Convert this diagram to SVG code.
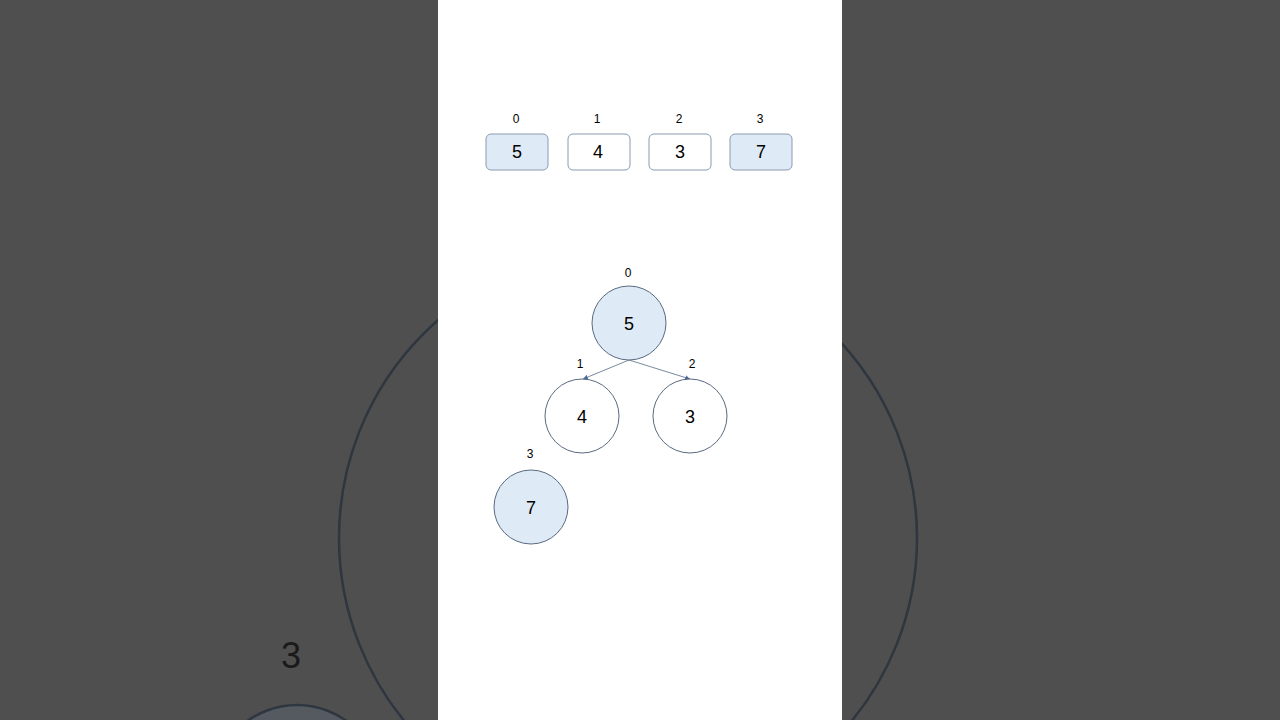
<svg xmlns="http://www.w3.org/2000/svg" width="1280" height="720" viewBox="0 0 1280 720">
<defs>
<style>
.t{font-family:"Liberation Sans",Arial,sans-serif;fill:#000;text-anchor:middle}
.idx{font-size:12px}
.val{font-size:18px}
.box{stroke:#8a9bb0;stroke-width:1}
.node{stroke:#5a6a80;stroke-width:1}
.edge{stroke:#7a8aa0;stroke-width:1;fill:none}
</style>
<marker id="ah" viewBox="0 0 6 6" refX="6" refY="3" markerWidth="5" markerHeight="5" orient="auto"><path d="M0,0L6,3L0,6z" fill="#4a6a9a"/></marker>
</defs>
<rect width="1280" height="720" fill="#4f4f4f"/>
<circle cx="628" cy="538" r="289" fill="none" stroke="#2e3640" stroke-width="2.5"/>
<circle cx="297" cy="790" r="85" fill="#555a60" stroke="#2e3640" stroke-width="2.5"/>
<text x="291" y="668" class="t" style="font-size:36px;fill:#1a1a1a">3</text>
<rect x="438" y="0" width="404" height="720" fill="#ffffff"/>
<g id="array">
<g id="a0"><text x="516" y="123" class="t idx">0</text><rect x="486" y="134" width="62" height="36" rx="5" fill="#deeaf5" class="box"/><text x="517" y="158" class="t val">5</text></g>
<g id="a1"><text x="597" y="123" class="t idx">1</text><rect x="568" y="134" width="62" height="36" rx="5" fill="#fff" class="box"/><text x="598" y="158" class="t val">4</text></g>
<g id="a2"><text x="679" y="123" class="t idx">2</text><rect x="649" y="134" width="62" height="36" rx="5" fill="#fff" class="box"/><text x="680" y="158" class="t val">3</text></g>
<g id="a3"><text x="760" y="123" class="t idx">3</text><rect x="730" y="134" width="62" height="36" rx="5" fill="#deeaf5" class="box"/><text x="761" y="158" class="t val">7</text></g>
</g>
<g id="connectors">
<line x1="629" y1="360" x2="583" y2="379" class="edge" marker-end="url(#ah)"/>
<line x1="629" y1="360" x2="690" y2="379" class="edge" marker-end="url(#ah)"/>
</g>
<g id="n0"><text x="628" y="277" class="t idx">0</text><circle cx="629" cy="323" r="37" fill="#deeaf5" class="node"/><text x="629" y="330" class="t val">5</text></g>
<g id="n1"><text x="580" y="368" class="t idx">1</text><circle cx="582" cy="416" r="37" fill="#fff" class="node"/><text x="582" y="423" class="t val">4</text></g>
<g id="n2"><text x="692" y="368" class="t idx">2</text><circle cx="690" cy="416" r="37" fill="#fff" class="node"/><text x="690" y="423" class="t val">3</text></g>
<g id="n3"><text x="530" y="458" class="t idx">3</text><circle cx="531" cy="507" r="37" fill="#deeaf5" class="node"/><text x="531" y="514" class="t val">7</text></g>
</svg>
